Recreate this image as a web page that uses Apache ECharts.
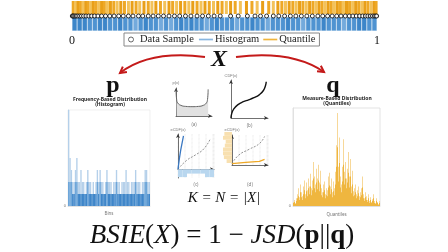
<!DOCTYPE html>
<html>
<head>
<meta charset="utf-8">
<script src="https://cdn.jsdelivr.net/npm/echarts@6/dist/echarts.min.js"></script>
<style>
  html, body { margin: 0; padding: 0; background: #fff; }
  #chart { width: 448px; height: 252px; }
</style>
</head>
<body>
<div id="chart"></div>
<script>
// data sample on [0,1] (dense near both ends)
var sampleX = [0.001, 0.003, 0.006, 0.01, 0.014, 0.019, 0.025, 0.031, 0.038, 0.046, 0.055, 0.064, 0.074, 0.085,
  0.097, 0.11, 0.124, 0.138, 0.153, 0.168, 0.185, 0.2, 0.218, 0.232, 0.25, 0.266, 0.283, 0.3, 0.318, 0.336,
  0.353, 0.372, 0.39, 0.41, 0.428, 0.447, 0.466, 0.486, 0.52, 0.545, 0.575, 0.6, 0.618, 0.638, 0.66, 0.678,
  0.697, 0.716, 0.734, 0.752, 0.77, 0.788, 0.806, 0.822, 0.838, 0.853, 0.868, 0.882, 0.896, 0.909, 0.921,
  0.932, 0.943, 0.953, 0.962, 0.97, 0.978, 0.985, 0.991, 0.996, 0.999];
// quantile edges shown in the top strip
var quantilePos = [0.004, 0.012, 0.02, 0.028, 0.036, 0.045, 0.053, 0.062, 0.07, 0.079, 0.088, 0.097, 0.106,
  0.116, 0.126, 0.137, 0.148, 0.16, 0.172, 0.185, 0.197, 0.21, 0.222, 0.236, 0.25, 0.262, 0.275, 0.29, 0.304,
  0.318, 0.33, 0.343, 0.356, 0.37, 0.383, 0.396, 0.41, 0.423, 0.436, 0.45, 0.464, 0.478, 0.492, 0.506, 0.52,
  0.535, 0.552, 0.572, 0.59, 0.607, 0.625, 0.645, 0.66, 0.675, 0.688, 0.7, 0.712, 0.724, 0.735, 0.746, 0.757,
  0.768, 0.779, 0.79, 0.8, 0.81, 0.82, 0.83, 0.84, 0.85, 0.86, 0.87, 0.88, 0.89, 0.9, 0.91, 0.92, 0.93, 0.94,
  0.95, 0.96, 0.97, 0.98, 0.99, 0.997];
// histogram counts (p)
var histAll = [8, 4, 3, 2, 2, 3, 4, 2, 2, 3, 2, 2, 1, 2, 3, 2, 2, 1, 2, 1, 2, 3, 2, 3, 2, 2, 1, 2, 3, 2,
  2, 2, 1, 2, 2, 3, 2, 2, 1, 2, 2, 2, 3, 2, 2, 1, 2, 2, 2, 3, 2, 2, 2, 1, 2, 2, 3, 3, 2, 2];
var histCore = [2, 2, 2, 1, 1, 2, 2, 1, 1, 1, 1, 1, 1, 1, 2, 1, 1, 1, 1, 1, 1, 2, 1, 2, 1, 1, 1, 1, 2, 1,
  1, 1, 1, 1, 1, 2, 1, 1, 1, 1, 1, 1, 1, 1, 1, 1, 1, 1, 1, 2, 1, 1, 1, 1, 1, 1, 2, 2, 1, 1];
// quantile measures (q)
var qLight = [4, 6, 3, 8, 12, 18, 9, 22, 14, 10, 20, 26, 12, 24, 16, 28, 20, 33, 18, 26, 45, 30, 22, 38, 28,
  42, 24, 36, 18, 14, 22, 25, 12, 18, 16, 30, 34, 20, 28, 14, 25, 18, 35, 62, 95, 40, 70, 30, 22, 40, 68, 35,
  45, 28, 38, 55, 30, 48, 20, 36, 15, 18, 22, 12, 16, 20, 10, 14, 18, 30, 12, 8, 14, 10, 6, 12, 5, 9, 4, 7,
  12, 5, 3, 8, 4, 2, 5];
var qCore = [3, 4, 2, 5, 8, 10, 6, 14, 9, 6, 12, 16, 8, 15, 10, 18, 12, 20, 11, 16, 28, 18, 14, 24, 17, 26,
  15, 22, 11, 9, 14, 16, 8, 11, 10, 19, 21, 12, 17, 9, 15, 11, 22, 40, 60, 25, 44, 19, 14, 25, 42, 22, 28,
  18, 24, 34, 19, 30, 13, 22, 10, 11, 14, 8, 10, 13, 6, 9, 11, 19, 8, 5, 9, 6, 4, 8, 3, 6, 3, 5, 8, 3, 2, 5,
  3, 1, 3];
// small panels (a)-(d)
var pdfCurve = [[0, 1.0], [0.02, 0.62], [0.06, 0.48], [0.15, 0.4], [0.3, 0.36], [0.5, 0.35], [0.7, 0.36],
  [0.85, 0.4], [0.94, 0.48], [0.98, 0.62], [1, 1.0]];
var cdfCurve = [[0, 0], [0.02, 0.12], [0.08, 0.25], [0.2, 0.37], [0.35, 0.45], [0.5, 0.5], [0.65, 0.56],
  [0.8, 0.64], [0.92, 0.76], [0.98, 0.9], [1, 1]];
var ecdfLine = [[0, 0], [0.04, 1.2], [0.08, 2.2], [0.12, 3.0], [0.16, 3.8]];
var ecdfDash = [[0, 0], [0.25, 1.0], [0.5, 1.6], [0.75, 2.3], [0.95, 3.5]];
var cBins = [-0.9, -0.9, -0.5, -0.5, -0.5, -0.5, -0.9, -0.9];
var qcdfLine = [[0, 0.05], [0.4, 0.09], [0.8, 0.13], [0.95, 0.2]];
var qcdfDash = [[0, 0.05], [0.2, 0.35], [0.5, 0.55], [0.8, 0.75], [0.95, 1.0]];
var dSide = [0.6, 0.9, 1, 1, 0.8, 0.7, 1, 0.85];

var serif = "Liberation Serif";
var red = "#c41a1a";

function idx(arr) {
  return arr.map(function (v, i) { return i; });
}

function arrow(x0, y0, cx, cy, x1, y1) {
  var dx = x1 - cx, dy = y1 - cy;
  var l = Math.sqrt(dx * dx + dy * dy);
  dx /= l; dy /= l;
  var a = 0.5, len = 7;
  var w1 = [x1 - len * (dx * Math.cos(a) - dy * Math.sin(a)), y1 - len * (dx * Math.sin(a) + dy * Math.cos(a))];
  var w2 = [x1 - len * (dx * Math.cos(-a) - dy * Math.sin(-a)), y1 - len * (dx * Math.sin(-a) + dy * Math.cos(-a))];
  return [
    { type: "bezierCurve", shape: { x1: x0, y1: y0, cpx1: cx, cpy1: cy, x2: x1, y2: y1 },
      style: { stroke: red, lineWidth: 2, fill: null } },
    { type: "polyline", shape: { points: [w1, [x1, y1], w2] },
      style: { stroke: red, lineWidth: 2, fill: null } }
  ];
}

function smallAxis(extra) {
  return Object.assign({
    axisLine: { show: true, lineStyle: { color: "#333", width: 0.7 }, symbol: ["none", "arrow"], symbolSize: [3, 4] },
    axisTick: { show: false },
    axisLabel: { show: false },
    splitLine: { show: false }
  }, extra);
}

var chart = echarts.init(document.getElementById("chart"));

var tinyName = { fontSize: 4.5, color: "#777", fontFamily: "Noto Sans" };

chart.setOption({
  animation: false,
  backgroundColor: "#fff",
  legend: {
    left: 124, top: 33,
    padding: [1, 4, 1, 4],
    itemGap: 4,
    itemWidth: 14, itemHeight: 5,
    borderColor: "#888", borderWidth: 1, borderRadius: 0,
    textStyle: { fontFamily: serif, fontSize: 10.5, color: "#222", padding: [0, 0, 0, -3] },
    data: [
      { name: "Data Sample", icon: "circle", itemStyle: { color: "#fff", borderColor: "#444", borderWidth: 1 } },
      { name: "Histogram", icon: "path://M0,0H20V2.4H0Z", itemStyle: { color: "#3a86cc" } },
      { name: "Quantile", icon: "path://M0,0H20V2.4H0Z", itemStyle: { color: "#f0b43c" } }
    ]
  },
  grid: [
    { left: 72, top: 1, width: 305, height: 13 },
    { left: 72, top: 17, width: 305, height: 14 },
    { left: 72, top: 1, width: 305, height: 30 },
    { left: 68, top: 110, width: 82, height: 96, show: true, borderColor: "#e6e6e6", borderWidth: 0.6 },
    { left: 293, top: 108, width: 87, height: 98, show: true, borderColor: "#dcdcdc", borderWidth: 0.8 },
    { left: 176, top: 88, width: 36, height: 28 },
    { left: 231, top: 80, width: 37, height: 38 },
    { left: 178, top: 134, width: 36, height: 44 },
    { left: 232, top: 135, width: 36, height: 30 },
    { left: 223, top: 132, width: 9, height: 31 }
  ],
  xAxis: [
    { gridIndex: 0, type: "value", min: 0, max: 1, show: false },
    { gridIndex: 1, type: "category", data: idx(histAll), show: false },
    { gridIndex: 2, type: "value", min: 0, max: 1, interval: 1,
      axisLine: { show: false }, axisTick: { show: false }, splitLine: { show: false },
      axisLabel: { fontFamily: serif, fontSize: 12, color: "#111", margin: 4 } },
    { gridIndex: 3, type: "category", data: idx(histAll),
      axisLine: { lineStyle: { color: "#ccc", width: 0.5 } }, axisTick: { show: false }, axisLabel: { show: false },
      name: "Bins", nameLocation: "middle", nameGap: 5, nameTextStyle: tinyName },
    { gridIndex: 4, type: "category", data: idx(qLight),
      axisLine: { lineStyle: { color: "#ccc", width: 0.5 } }, axisTick: { show: false }, axisLabel: { show: false },
      name: "Quantiles", nameLocation: "middle", nameGap: 6, nameTextStyle: tinyName },
    smallAxis({ gridIndex: 5, type: "value", min: 0, max: 1.12, name: "(a)", nameLocation: "middle", nameGap: 6, nameTextStyle: tinyName }),
    smallAxis({ gridIndex: 6, type: "value", min: 0, max: 1.05, name: "(b)", nameLocation: "middle", nameGap: 5, nameTextStyle: tinyName }),
    smallAxis({ gridIndex: 7, type: "value", min: 0, max: 1.05, name: "(c)", nameLocation: "middle", nameGap: 4, nameTextStyle: tinyName,
      axisLine: { show: true, onZero: true, lineStyle: { color: "#333", width: 0.7 }, symbol: ["none", "arrow"], symbolSize: [3, 4] },
      splitLine: { show: true, lineStyle: { color: "#bbb", width: 0.4, type: "dotted" } }, interval: 0.2 }),
    smallAxis({ gridIndex: 8, type: "value", min: 0, max: 1.05, name: "(d)", nameLocation: "middle", nameGap: 17, nameTextStyle: tinyName,
      splitLine: { show: true, lineStyle: { color: "#bbb", width: 0.4, type: "dotted" } }, interval: 0.2 }),
    { gridIndex: 9, type: "value", inverse: true, min: 0, max: 1, show: false },
    { gridIndex: 7, type: "category", data: idx(cBins), show: false }
  ],
  yAxis: [
    { gridIndex: 0, type: "value", min: 0, max: 1, show: false },
    { gridIndex: 1, type: "value", min: 0, max: 1, show: false },
    { gridIndex: 2, type: "value", min: 0, max: 1, show: false },
    { gridIndex: 3, type: "value", min: 0, max: 8, interval: 8,
      axisLine: { show: true, lineStyle: { color: "#b9d2ea", width: 0.8 } }, axisTick: { show: false }, splitLine: { show: false },
      axisLabel: { fontSize: 4, color: "#777", margin: 2, formatter: function (v) { return v === 0 ? "0" : ""; } } },
    { gridIndex: 4, type: "value", min: 0, max: 100, interval: 100,
      axisLine: { show: true, lineStyle: { color: "#ddd", width: 0.8 } }, axisTick: { show: false }, splitLine: { show: false },
      axisLabel: { fontSize: 4, color: "#777", margin: 2, formatter: function (v) { return v === 0 ? "0" : ""; } } },
    smallAxis({ gridIndex: 5, type: "value", min: 0, max: 1.05, name: "p(x)", nameGap: 3, nameTextStyle: { fontSize: 4, color: "#777" } }),
    smallAxis({ gridIndex: 6, type: "value", min: 0, max: 1.05, name: "CDF(x)", nameGap: 2, nameTextStyle: { fontSize: 4, color: "#777" } }),
    smallAxis({ gridIndex: 7, type: "value", min: -1, max: 4, name: "eCDF(x)", nameGap: 2, nameTextStyle: { fontSize: 4, color: "#777" } }),
    smallAxis({ gridIndex: 8, type: "value", min: 0, max: 1.05, name: "eCDF(x)", nameGap: 3, nameTextStyle: { fontSize: 4, color: "#777" } }),
    { gridIndex: 9, type: "category", data: idx(dSide), show: false }
  ],
  series: [
    // top strip
    { name: "Quantile", type: "bar", xAxisIndex: 0, yAxisIndex: 0, barWidth: 3,
      data: quantilePos.map(function (v) { return [v, 1]; }),
      itemStyle: { color: function (p) { return ["#eea826", "#f3c25a", "#e99f18"][p.dataIndex % 3]; } } },
    { name: "Histogram", type: "bar", xAxisIndex: 1, yAxisIndex: 1, barCategoryGap: 0,
      data: histAll.map(function () { return 1; }),
      itemStyle: {
        borderColor: "rgba(255,255,255,0.4)", borderWidth: 0.5,
        color: function (p) { var c = histAll[p.dataIndex]; return c >= 3 ? "#3d86c9" : c === 2 ? "#4f93d1" : "#74aadc"; }
      } },
    { name: "Data Sample", type: "scatter", xAxisIndex: 2, yAxisIndex: 2, symbolSize: 4, z: 5,
      data: sampleX.map(function (v) { return [v, 0.5]; }),
      itemStyle: { color: "#fff", borderColor: "#000", borderWidth: 1 } },
    // p
    { name: "p-all", type: "bar", xAxisIndex: 3, yAxisIndex: 3, barCategoryGap: 0, barGap: "-100%",
      data: histAll, itemStyle: { color: "#b5d0ea" } },
    { name: "p-core", type: "bar", xAxisIndex: 3, yAxisIndex: 3, barCategoryGap: 0, barGap: "-100%",
      data: histCore, itemStyle: { color: function (p) { return histCore[p.dataIndex] > 1 ? "#6ea6d9" : "#3f86c9"; } } },
    // q
    { name: "q-all", type: "bar", xAxisIndex: 4, yAxisIndex: 4, barCategoryGap: 0, barGap: "-100%",
      data: qLight, itemStyle: { color: "#f7d899" } },
    { name: "q-core", type: "bar", xAxisIndex: 4, yAxisIndex: 4, barCategoryGap: 0, barGap: "-100%",
      data: qCore, itemStyle: { color: "#efb63f" } },
    // (a)
    { name: "pdf", type: "line", xAxisIndex: 5, yAxisIndex: 5, data: pdfCurve, smooth: true, symbol: "none",
      lineStyle: { color: "#666", width: 1 }, areaStyle: { color: "#d4d4d4" } },
    // (b)
    { name: "cdf", type: "line", xAxisIndex: 6, yAxisIndex: 6, data: cdfCurve, smooth: true, symbol: "none",
      lineStyle: { color: "#111", width: 1.4 } },
    // (c)
    { name: "c-bins", type: "bar", xAxisIndex: 10, yAxisIndex: 7, barCategoryGap: 0, data: cBins,
      itemStyle: { color: "#b9d7ef" } },
    { name: "c-dash", type: "line", xAxisIndex: 7, yAxisIndex: 7, data: ecdfDash, smooth: true, symbol: "none",
      lineStyle: { color: "#777", width: 0.8, type: [2, 1.5] } },
    { name: "c-line", type: "line", xAxisIndex: 7, yAxisIndex: 7, data: ecdfLine, symbol: "none",
      lineStyle: { color: "#3a78c2", width: 1.3 } },
    // (d)
    { name: "d-side", type: "bar", xAxisIndex: 9, yAxisIndex: 9, barCategoryGap: 0, data: dSide,
      itemStyle: { color: "#f8e0b0" } },
    { name: "d-dash", type: "line", xAxisIndex: 8, yAxisIndex: 8, data: qcdfDash, smooth: true, symbol: "none",
      lineStyle: { color: "#777", width: 0.8, type: [2, 1.5] } },
    { name: "d-line", type: "line", xAxisIndex: 8, yAxisIndex: 8, data: qcdfLine, symbol: "none",
      lineStyle: { color: "#eea826", width: 1.3 } }
  ],
  graphic: arrow(205, 57, 150, 50, 120, 73).concat(arrow(236, 57, 292, 50, 324, 72)).concat([
    { type: "text", x: 219, y: 60, style: { text: "X", font: "italic bold 24px " + serif, fill: "#111", align: "center", verticalAlign: "middle" } },
    { type: "text", x: 113, y: 86, style: { text: "p", font: "bold 24px " + serif, fill: "#111", align: "center", verticalAlign: "middle" } },
    { type: "text", x: 333, y: 86, style: { text: "q", font: "bold 24px " + serif, fill: "#111", align: "center", verticalAlign: "middle" } },
    { type: "text", x: 110, y: 102, style: { text: "Frequency-Based Distribution\n(Histogram)", font: "bold 5px 'Noto Sans'", lineHeight: 5.5, fill: "#222", align: "center", verticalAlign: "middle" } },
    { type: "text", x: 337, y: 101, style: { text: "Measure-Based Distribution\n(Quantiles)", font: "bold 5px 'Noto Sans'", lineHeight: 5.5, fill: "#222", align: "center", verticalAlign: "middle" } },
    { type: "text", x: 224, y: 198, style: { text: "K = N = |X|", font: "italic 15px " + serif, fill: "#111", align: "center", verticalAlign: "middle" } },
    { type: "text", x: 222, y: 236, style: {
      text: "{i|BSIE}{n|(}{i|X}{n|) = 1 − }{i|JSD}{n|(}{b|p}{n|||}{b|q}{n|)}",
      align: "center", verticalAlign: "middle",
      rich: {
        i: { font: "italic 27px " + serif, fill: "#111" },
        n: { font: "27px " + serif, fill: "#111" },
        b: { font: "bold 27px " + serif, fill: "#111" }
      } } }
  ])
});
</script>
</body>
</html>
